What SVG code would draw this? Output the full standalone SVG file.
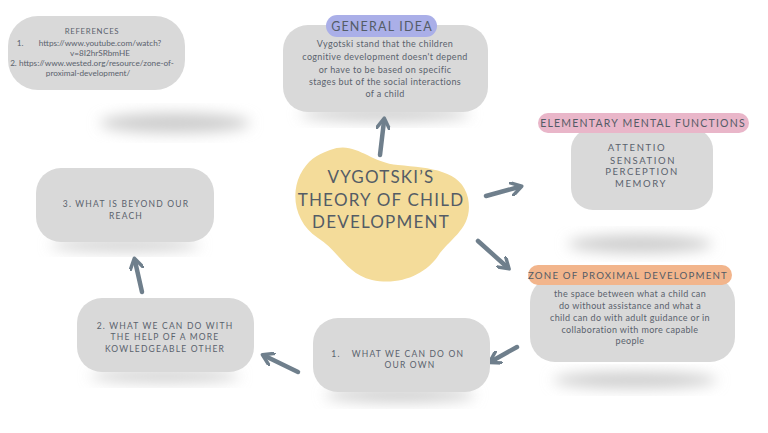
<svg xmlns="http://www.w3.org/2000/svg" width="768" height="433" viewBox="0 0 768 433">
<defs>
<filter id="blur" x="-50%" y="-50%" width="200%" height="200%"><feGaussianBlur stdDeviation="7"/></filter>
<marker id="ah" viewBox="0 0 10 10" refX="6" refY="5" markerWidth="3.2" markerHeight="3.2" orient="auto"><path d="M0,0 L8,5 L0,10" fill="none" stroke="#6f7f8c" stroke-width="2.4" stroke-linecap="round" stroke-linejoin="round"/></marker>
</defs>
<style>
.box{fill:#d9d9d9}
.sh{fill:#cdcdcd;filter:url(#blur)}
.t{font-family:Lato,"Open Sans",sans-serif;fill:#59626d;text-anchor:middle}
.s{font-size:9px;letter-spacing:0.35px}
.b{font-size:8.5px;letter-spacing:1.2px}
.lab{font-family:Lato,"Open Sans",sans-serif;fill:#545c66;text-anchor:middle;letter-spacing:1.2px}
.c{stroke:#6f7f8c;stroke-width:4.5;stroke-linecap:round;fill:none;marker-end:url(#ah)}
</style>
<rect width="768" height="433" fill="#ffffff"/>
<g id="shadows">
<ellipse class="sh" cx="175" cy="123" rx="75" ry="10"/>
<ellipse class="sh" cx="385" cy="114" rx="85" ry="7"/>
<ellipse class="sh" cx="640" cy="244" rx="72" ry="9"/>
<ellipse class="sh" cx="635" cy="380" rx="82" ry="8"/>
<ellipse class="sh" cx="125" cy="245" rx="75" ry="6"/>
<ellipse class="sh" cx="165" cy="376" rx="75" ry="6"/>
<ellipse class="sh" cx="400" cy="395" rx="75" ry="7"/>
</g>
<g id="connectors">
<line class="c" x1="380" y1="155" x2="384" y2="121"/>
<line class="c" x1="486" y1="196" x2="519" y2="187"/>
<line class="c" x1="478" y1="241" x2="507" y2="267"/>
<line class="c" x1="517" y1="347" x2="492" y2="361"/>
<line class="c" x1="298" y1="372" x2="265" y2="356"/>
<line class="c" x1="142" y1="292" x2="135" y2="261"/>
</g>
<g id="references">
<rect class="box" x="8" y="16" width="177" height="74" rx="30"/>
<text class="t" x="92" y="34" font-size="7.8" letter-spacing="0.7">REFERENCES</text>
<text class="t" font-size="8.2" y="46"><tspan x="20">1.</tspan><tspan x="100">https://www.youtube.com/watch?</tspan></text>
<text class="t" x="100" y="56" font-size="8.2">v=8I2hrSRbmHE</text>
<text class="t" x="92" y="66" font-size="8.2">2. https://www.wested.org/resource/zone-of-</text>
<text class="t" x="88" y="76" font-size="8.2">proximal-development/</text>
</g>
<g id="general-idea">
<rect class="box" x="283" y="25" width="205" height="87" rx="25"/>
<rect x="326" y="15" width="111" height="22" rx="11" fill="#aaafe8"/>
<text class="lab" x="382" y="31" font-size="12.5">GENERAL IDEA</text>
<text class="t s" x="385" y="47">Vygotski stand that the  children</text>
<text class="t s" x="385" y="60">cognitive development doesn't depend</text>
<text class="t s" x="385" y="73">or have to be based on specific</text>
<text class="t s" x="385" y="85">stages but of the social interactions</text>
<text class="t s" x="385" y="97">of a child</text>
</g>
<g id="elementary-mental-functions">
<rect class="box" x="571" y="128" width="142" height="82" rx="22"/>
<rect x="538" y="113" width="211" height="20" rx="10" fill="#e9b6c9"/>
<text class="lab" x="643" y="127" font-size="10.5" letter-spacing="0.8">ELEMENTARY MENTAL FUNCTIONS</text>
<text class="t" font-size="9.5" letter-spacing="1.6" x="637" y="151">ATTENTIO</text>
<text class="t" font-size="9.5" letter-spacing="1.6" x="643" y="164">SENSATION</text>
<text class="t" font-size="9.5" letter-spacing="1.6" x="642" y="175">PERCEPTION</text>
<text class="t" font-size="9.5" letter-spacing="1.6" x="641" y="187">MEMORY</text>
</g>
<g id="zone-of-proximal-development">
<rect class="box" x="530" y="277" width="205" height="85" rx="25"/>
<rect x="528" y="265" width="204" height="20" rx="10" fill="#f2b58c"/>
<text class="lab" x="628" y="279" font-size="9.7" letter-spacing="0.6">ZONE OF PROXIMAL DEVELOPMENT</text>
<text class="t s" x="630" y="297">the space between what a child can</text>
<text class="t s" x="630" y="309">do without assistance and what a</text>
<text class="t s" x="630" y="321">child can do with adult guidance or in</text>
<text class="t s" x="630" y="333">collaboration with more capable</text>
<text class="t s" x="630" y="344">people</text>
</g>
<g id="step-3">
<rect class="box" x="36" y="168" width="178" height="74" rx="25"/>
<text class="t b" x="126" y="207" letter-spacing="1.6">3. WHAT IS BEYOND OUR</text>
<text class="t b" x="126" y="219" letter-spacing="1.6">REACH</text>
</g>
<g id="step-2">
<rect class="box" x="77" y="298" width="177" height="74" rx="25"/>
<text class="t b" x="165" y="329">2. WHAT WE CAN DO WITH</text>
<text class="t b" x="165" y="340">THE HELP OF A MORE</text>
<text class="t b" x="165" y="352">KOWLEDGEABLE OTHER</text>
</g>
<g id="step-1">
<rect class="box" x="313" y="318" width="177" height="74" rx="25"/>
<text class="t b" y="357"><tspan x="336">1.</tspan><tspan x="408">WHAT WE CAN DO ON</tspan></text>
<text class="t b" x="410" y="368">OUR OWN</text>
</g>
<g id="central-theory">
<path d="M330,150 C355,140 368,162 398,165 C430,168 462,170 468,198 C474,228 450,238 438,256 C426,274 400,286 372,280 C346,274 338,250 318,238 C296,224 290,196 300,175 C308,160 316,155 330,150 Z" fill="#f4dc9a"/>
<text class="lab" x="381" y="183" font-size="17" letter-spacing="1.4" fill="#4b5866">VYGOTSKI’S</text>
<text class="lab" x="381" y="206" font-size="17" letter-spacing="1.4" fill="#4b5866">THEORY OF CHILD</text>
<text class="lab" x="381" y="228" font-size="17" letter-spacing="1.4" fill="#4b5866">DEVELOPMENT</text>
</g>
</svg>
